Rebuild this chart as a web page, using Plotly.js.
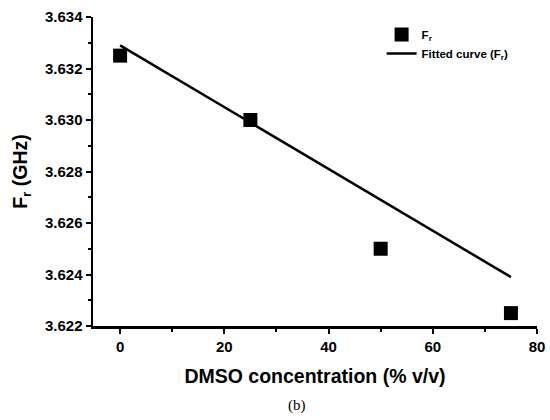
<!DOCTYPE html>
<html>
<head>
<meta charset="utf-8">
<script src="https://cdn.plot.ly/plotly-3.0.1.min.js"></script>
<style>body{margin:0;padding:0;background:#fff}#chart{width:550px;height:420px}</style>
</head>
<body>
<div id="chart"></div>
<script>
// Data
var concentration = [0, 25, 50, 75];
var frValues = [3.6325, 3.6300, 3.6250, 3.6225];
var fitX = [0, 75];
var fitY = [3.6329, 3.6239];
var xTickVals = [0, 20, 40, 60, 80];
var yTickVals = [3.622, 3.624, 3.626, 3.628, 3.630, 3.632, 3.634];

var FONT = "Liberation Sans, Arial, sans-serif";

var traces = [
  {
    x: concentration, y: frValues, type: 'scatter', mode: 'markers',
    name: 'F<sub>r</sub>',
    marker: {symbol: 'square', size: 14, color: '#000'}
  },
  {
    x: fitX, y: fitY, type: 'scatter', mode: 'lines',
    name: 'Fitted curve (F<sub>r</sub>)',
    line: {color: '#000', width: 2.5}
  }
];

var layout = {
  width: 550, height: 420,
  margin: {l: 93, r: 13, t: 17, b: 94},
  paper_bgcolor: '#fff', plot_bgcolor: '#fff',
  font: {family: FONT, color: '#000'},
  showlegend: true,
  legend: {
    x: 0.65, y: 0.99, xanchor: 'left', yanchor: 'top',
    bgcolor: 'rgba(0,0,0,0)',
    font: {family: FONT, size: 11.5, weight: 'bold', color: '#000'},
    tracegroupgap: 0
  },
  xaxis: {
    range: [-5.2, 80], tickvals: xTickVals, ticktext: xTickVals.map(String),
    showgrid: false, zeroline: false, showline: true, linewidth: 2.5, linecolor: '#000',
    ticks: 'outside', ticklen: 5, tickwidth: 2, tickcolor: '#000',
    minor: {dtick: 10, tick0: 0, ticks: 'outside', ticklen: 3, tickwidth: 2, tickcolor: '#000'},
    tickfont: {family: FONT, size: 15, weight: 'bold'},
    title: {text: 'DMSO concentration (% v/v)', font: {family: FONT, size: 19.5, weight: 'bold'}, standoff: 16}
  },
  yaxis: {
    range: [3.622, 3.634], tickvals: yTickVals, ticktext: yTickVals.map(function(v){return v.toFixed(3);}),
    showgrid: false, zeroline: false, showline: true, linewidth: 2.5, linecolor: '#000',
    ticks: 'outside', ticklen: 5, tickwidth: 2, tickcolor: '#000',
    minor: {dtick: 0.001, tick0: 3.622, ticks: 'outside', ticklen: 3, tickwidth: 2, tickcolor: '#000'},
    tickfont: {family: FONT, size: 15, weight: 'bold'},
    title: {text: 'F<sub>r</sub> (GHz)', font: {family: FONT, size: 19.5, weight: 'bold'}, standoff: 12}
  },
  xaxis2: {
    overlaying: 'x', side: 'top', anchor: 'y', range: [-5.2, 80],
    tickvals: xTickVals, showticklabels: false,
    showgrid: false, zeroline: false, showline: true, linewidth: 2.5, linecolor: '#000',
    ticks: 'inside', ticklen: 5, tickwidth: 2, tickcolor: '#000',
    minor: {dtick: 10, tick0: 0, ticks: 'inside', ticklen: 3, tickwidth: 2, tickcolor: '#000'}
  },
  yaxis2: {
    overlaying: 'y', side: 'right', anchor: 'x', range: [0, 7], dtick: 1, tick0: 0,
    showticklabels: false,
    showgrid: false, zeroline: false, showline: true, linewidth: 2.5, linecolor: '#000',
    ticks: 'inside', ticklen: 5, tickwidth: 2, tickcolor: '#000',
    minor: {dtick: 0.5, tick0: 0, ticks: 'inside', ticklen: 3, tickwidth: 2, tickcolor: '#000'}
  },
  annotations: [
    {text: '(b)', xref: 'paper', yref: 'paper', x: 0.46, y: -0.256,
     xanchor: 'center', yanchor: 'middle', showarrow: false,
     font: {family: 'Liberation Serif, Times New Roman, serif', size: 15, color: '#000'}}
  ]
};

Plotly.newPlot('chart', traces, layout, {displayModeBar: false, staticPlot: true});
</script>
</body>
</html>
